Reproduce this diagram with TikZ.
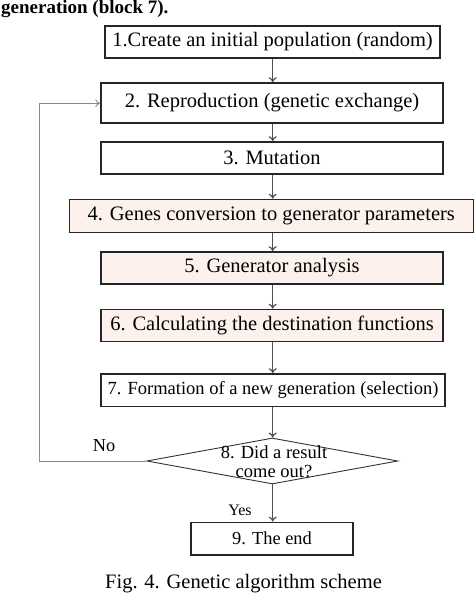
\documentclass[tikz,border=0pt]{standalone}
\usepackage{fontspec}
\setmainfont{Liberation Serif}
\usetikzlibrary{arrows.meta,shapes.geometric}
\definecolor{pinkfill}{HTML}{FCF1EC}
\definecolor{arrowgray}{HTML}{505050}
\definecolor{loopgray}{HTML}{8A8A8A}
\tikzset{
  box/.style={draw=black!85,line width=1.5pt,rectangle,inner sep=0pt,align=center,font=\fontsize{20.5}{24}\selectfont},
  pinkbox/.style={box,fill=pinkfill},
  flow/.style={draw=arrowgray,line width=1.2pt,-{To[length=5pt,width=8pt]}},
  loop/.style={draw=loopgray,line width=0.9pt,-{To[length=5pt,width=8pt]}},
  lbl/.style={inner sep=0pt}
}
\begin{document}
\begin{tikzpicture}[x=1pt,y=-1pt]
\useasboundingbox (0,0) rectangle (474,593);
\clip (0,0) rectangle (474,593);
\node[lbl,anchor=base west,font=\fontsize{19}{22}\selectfont\bfseries] (top) at (1,14) {generation (block 7).};
\node[box,minimum width=335pt,minimum height=32pt] (b1) at (272.5,42) {1.Create an initial population (random)};
\node[box,minimum width=342pt,minimum height=40pt] (b2) at (272,103) {2. Reproduction (genetic exchange)};
\node[box,minimum width=342pt,minimum height=32pt] (b3) at (272,158) {3. Mutation};
\node[pinkbox,minimum width=404pt,minimum height=33pt] (b4) at (271.3,216) {4. Genes conversion to generator parameters};
\node[pinkbox,minimum width=342pt,minimum height=32pt] (b5) at (272,268) {5. Generator analysis};
\node[pinkbox,minimum width=342pt,minimum height=32pt] (b6) at (272,325.5) {6. Calculating the destination functions};
\node[box,minimum width=344pt,minimum height=32.7pt,font=\fontsize{18.5}{22}\selectfont] (b7) at (273,390.3) {7. Formation of a new generation (selection)};
\node[diamond,draw=black!80,line width=0.9pt,minimum width=251pt,minimum height=46pt,inner sep=0pt,aspect=5.45] (d8) at (272.3,461) {};
\node[lbl,align=center,font=\fontsize{18.5}{19}\selectfont] (d8t) at (274,462) {8. Did a result\\come out?};
\node[box,minimum width=162pt,minimum height=32.7pt,font=\fontsize{18.4}{22}\selectfont] (b9) at (272,538.7) {9. The end};
\node[lbl,font=\fontsize{18.3}{22}\selectfont] (no) at (104,446) {No};
\node[lbl,font=\fontsize{16}{20}\selectfont] (yes) at (240,510) {Yes};
\node[lbl,anchor=base,font=\fontsize{20.5}{24}\selectfont] (cap) at (243.5,588) {Fig. 4. Genetic algorithm scheme};
\coordinate (c1) at (39.3,461);
\coordinate (c2) at (39.3,103.3);
\draw[flow] (b1.south -| 272.7,0) -- (b2.north -| 272.7,0);
\draw[flow] (b2.south -| 272.7,0) -- (b3.north -| 272.7,0);
\draw[flow] (b3.south -| 272.7,0) -- (b4.north -| 272.7,0);
\draw[flow] (b4.south -| 272.7,0) -- (b5.north -| 272.7,0);
\draw[flow] (b5.south -| 272.7,0) -- (b6.north -| 272.7,0);
\draw[flow] (b6.south -| 272.7,0) -- (b7.north -| 272.7,0);
\draw[flow] (b7.south -| 272.7,0) -- (d8.north -| 272.7,0);
\draw[flow] (d8.south -| 272.7,0) -- (b9.north -| 272.7,0);
\draw[loop] (d8.west) -- (c1) -- (c2) -- (c2 -| b2.west);
\end{tikzpicture}
\end{document}
